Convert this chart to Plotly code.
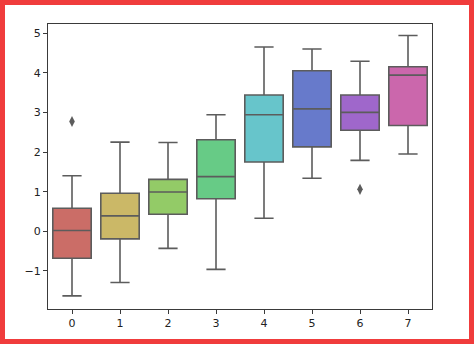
import plotly.graph_objects as go

categories = [0, 1, 2, 3, 4, 5, 6, 7]
lower_whisker = [-1.63, -1.29, -0.43, -0.96, 0.33, 1.34, 1.79, 1.95]
q1_values = [-0.68, -0.19, 0.43, 0.82, 1.75, 2.13, 2.55, 2.67]
median_values = [0.02, 0.39, 0.99, 1.38, 2.94, 3.09, 3.00, 3.94]
q3_values = [0.58, 0.96, 1.31, 2.31, 3.44, 4.05, 3.44, 4.15]
upper_whisker = [1.40, 2.25, 2.24, 2.94, 4.65, 4.60, 4.29, 4.94]
outlier_x = [0, 6]
outlier_y = [2.77, 1.06]
box_colors = ["#cb6d67", "#cbb867", "#93cb67", "#67cb86",
              "#67c5cb", "#677acb", "#9f67cb", "#cb67ac"]
y_ticks = [-1, 0, 1, 2, 3, 4, 5]

line_gray = "#5c5c5c"

fig = go.Figure()
for i, c in enumerate(categories):
    fig.add_trace(go.Box(
        x=[c], q1=[q1_values[i]], median=[median_values[i]], q3=[q3_values[i]],
        lowerfence=[lower_whisker[i]], upperfence=[upper_whisker[i]],
        width=0.8, whiskerwidth=0.5,
        fillcolor=box_colors[i],
        line=dict(color=line_gray, width=1.6),
        boxpoints=False, showlegend=False, hoverinfo="skip",
    ))

fig.add_trace(go.Scatter(
    x=outlier_x, y=outlier_y, mode="markers",
    marker=dict(symbol="diamond-tall", size=8, color=line_gray),
    showlegend=False, hoverinfo="skip",
))

axis_common = dict(
    showgrid=False, zeroline=False, showline=True, mirror=True,
    linecolor="#3a3a3a", linewidth=1,
    ticks="outside", ticklen=4, tickwidth=1, tickcolor="#3a3a3a",
    tickfont=dict(family="DejaVu Sans", size=11, color="#222222"),
)

fig.update_layout(
    width=474, height=344,
    margin=dict(l=48, r=42, t=24, b=35),
    paper_bgcolor="white", plot_bgcolor="white",
    boxmode="overlay",
    xaxis=dict(range=[-0.5, 7.5], tickmode="array", tickvals=categories,
               ticktext=[str(c) for c in categories], **axis_common),
    yaxis=dict(range=[-1.96, 5.23], tickmode="array", tickvals=y_ticks,
               ticktext=[str(t).replace("-", "\u2212") for t in y_ticks], **axis_common),
    shapes=[dict(
        type="rect", xref="paper", yref="paper",
        x0=(2.5 - 48) / 384, x1=(471.5 - 48) / 384,
        y0=(309 - 341.5) / 285, y1=(309 - 2.5) / 285,
        line=dict(color="#f03c3c", width=5), fillcolor="rgba(0,0,0,0)",
        layer="above",
    )],
)

fig.write_html("out.html")
